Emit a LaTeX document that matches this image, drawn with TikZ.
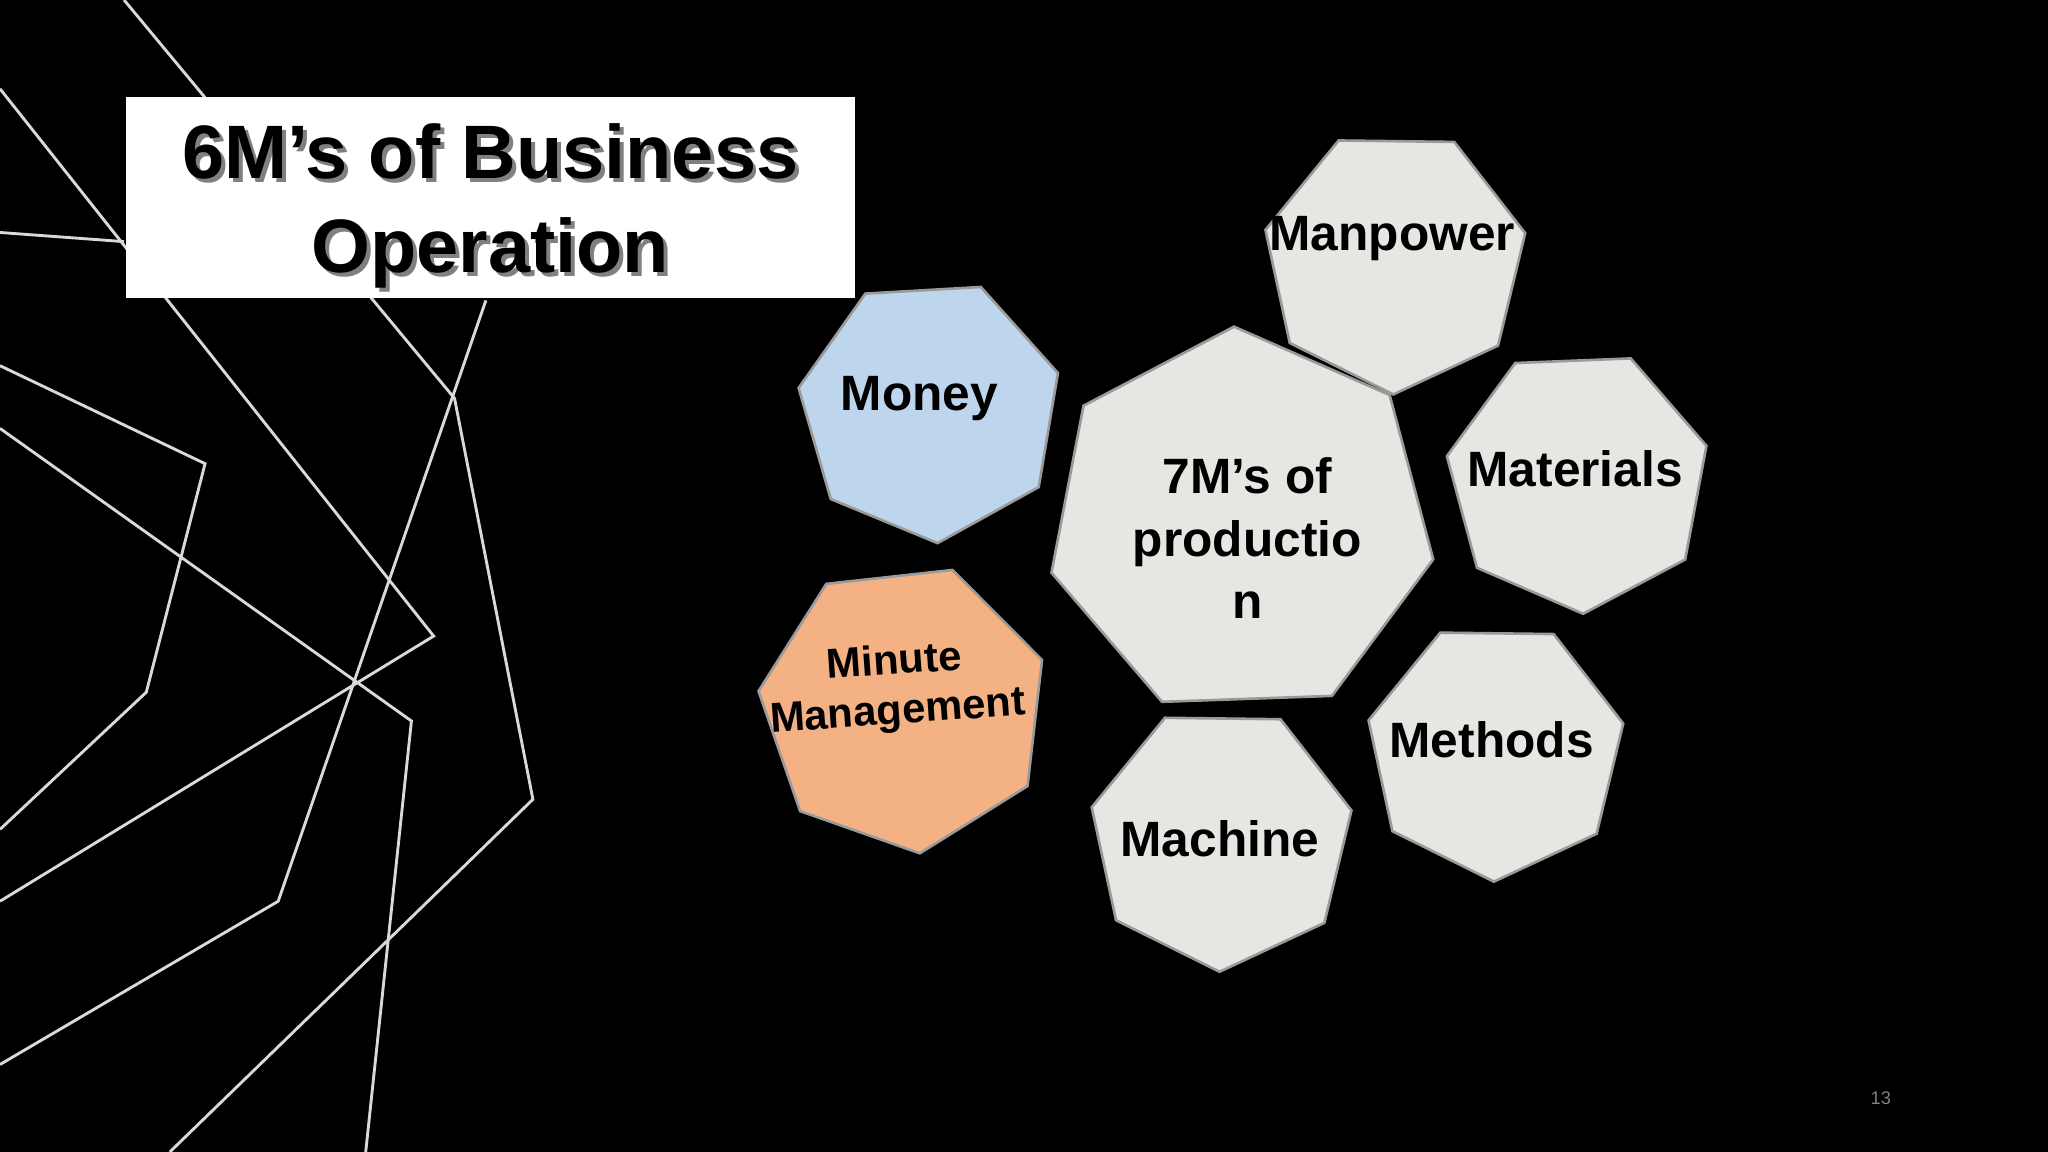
\documentclass[tikz,border=0pt]{standalone}
\usepackage{fontspec}
\setmainfont{Liberation Sans}
\usetikzlibrary{shapes.geometric}
\definecolor{hex}{HTML}{E8E6E3}
\definecolor{hexline}{HTML}{9A9A9A}
\definecolor{moneyc}{HTML}{BDD6EE}
\definecolor{minc}{HTML}{F4B183}
\tikzset{
 hepta/.style={regular polygon, regular polygon sides=7, draw=hexline, line width=1pt, fill=hex, inner sep=0pt, font=\bfseries\fontsize{19}{22}\selectfont, align=center},
 bgline/.style={white!85!black, line width=1.1pt},
}
\begin{document}
\begin{tikzpicture}[x=0.5pt,y=-0.5pt]
\fill[black] (0,0) rectangle (1568,882);
\useasboundingbox (0,0) rectangle (1568,882);
\draw[bgline] (95,0)--(348,305)--(408,612)--(130,882);
\draw[bgline] (0,68)--(332,487)--(0,690);
\draw[bgline] (0,178)--(95,185);
\draw[bgline] (372,230)--(213,690)--(0,815);
\draw[bgline] (0,280)--(157,355)--(112,530)--(0,635);
\draw[bgline] (0,328)--(315,552)--(280,882);
\node[fill=white, minimum width=279pt, minimum height=77pt, anchor=north west, inner sep=0pt] (title) at (96,74) {};
\node[align=center, font=\bfseries\fontsize{29}{36}\selectfont, text=gray] at ([xshift=1.5pt,yshift=-4.5pt]title.center) {6M’s of Business\\Operation};
\node[align=center, font=\bfseries\fontsize{29}{36}\selectfont] (tt) at ([yshift=-3pt]title.center) {6M’s of Business\\Operation};
\node[hepta, minimum size=150pt, rotate=2] (c) at (950,400) {};
\node[align=center, font=\bfseries\fontsize{19}{24}\selectfont] at (955,412) {7M’s of\\productio\\n};
\node[hepta, minimum size=102pt, rotate=25] (mp) at (1068,200) {};
\node[font=\bfseries\fontsize{19}{22}\selectfont] at (1066,183) {Manpower};
\node[hepta, minimum size=102pt, rotate=28] (mt) at (1208,368) {};
\node[font=\bfseries\fontsize{19}{22}\selectfont] at (1206,359) {Materials};
\node[hepta, minimum size=100pt, rotate=25] (me) at (1145,575) {};
\node[font=\bfseries\fontsize{19}{22}\selectfont] at (1142,566) {Methods};
\node[hepta, minimum size=102pt, rotate=25] (ma) at (935,642) {};
\node[font=\bfseries\fontsize{19}{22}\selectfont] at (934,642) {Machine};
\node[hepta, fill=moneyc, minimum size=102pt, rotate=29] (mo) at (712,314) {};
\node[font=\bfseries\fontsize{19}{22}\selectfont] at (704,305) {Money};
\node[hepta, fill=minc, minimum size=112pt, rotate=32] (mm) at (692,542) {};
\node[align=center, font=\bfseries\fontsize{16}{19}\selectfont, rotate=4] at (686,527) {Minute\\Management};
\node[text=gray, font=\fontsize{7}{8}\selectfont] (pg) at (1440,841) {13};
\end{tikzpicture}
\end{document}
